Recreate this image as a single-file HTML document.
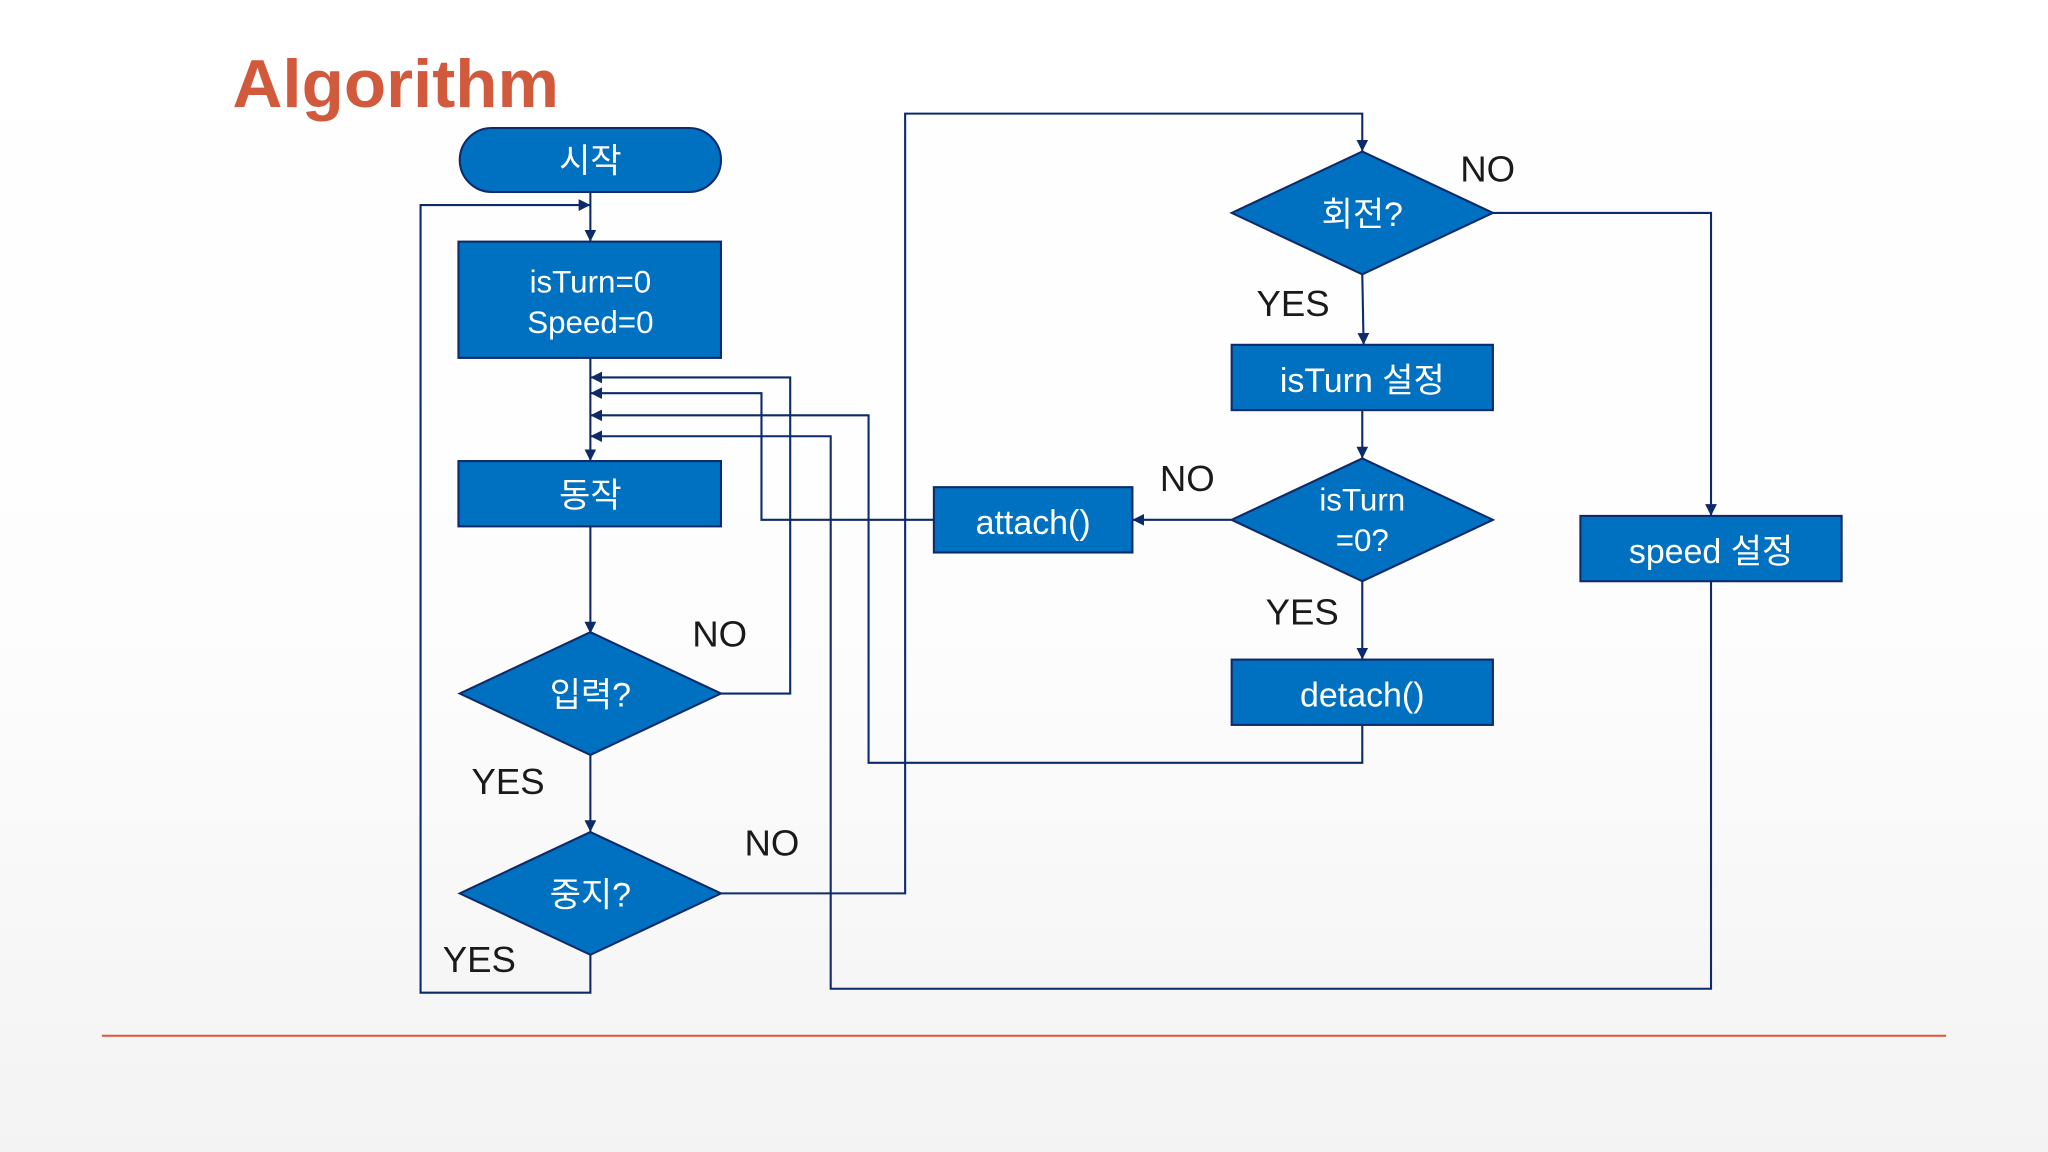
<!DOCTYPE html>
<html><head><meta charset="utf-8"><style>
html,body{margin:0;padding:0;width:2048px;height:1152px;overflow:hidden;background:#fff}
svg{display:block}
text{font-family:"Liberation Sans","Noto Sans CJK KR",sans-serif}
</style></head><body>
<svg width="2048" height="1152" viewBox="0 0 1568 882" preserveAspectRatio="none" xmlns="http://www.w3.org/2000/svg">
<defs>
<linearGradient id="bg" x1="0" y1="0" x2="0" y2="1">
<stop offset="0" stop-color="#ffffff"/><stop offset="0.55" stop-color="#fdfdfd"/><stop offset="1" stop-color="#f3f3f4"/>
</linearGradient>
<marker id="a" viewBox="0 0 10 10" refX="10" refY="5" markerWidth="9" markerHeight="9" markerUnits="userSpaceOnUse" orient="auto">
<path d="M0,0 L10,5 L0,10 z" fill="#0d2a6b"/></marker>
</defs>
<rect width="1568" height="882" fill="url(#bg)"/>
<text x="178" y="82" font-size="52" font-weight="bold" fill="#d25a3c" textLength="250" lengthAdjust="spacingAndGlyphs">Algorithm</text>
<line x1="78" y1="793" x2="1490" y2="793" stroke="#e0533a" stroke-width="1.5"/>
<g fill="none" stroke="#0d2a6b" stroke-width="1.6">
<path d="M452,147 V185" marker-end="url(#a)"/>
<path d="M452,731 V760 H322 V157 H452" marker-end="url(#a)"/>
<path d="M452,274 V353" marker-end="url(#a)"/>
<path d="M452,403 V485" marker-end="url(#a)"/>
<path d="M552,531 H605 V289 H452" marker-end="url(#a)"/>
<path d="M452,578 V637" marker-end="url(#a)"/>
<path d="M552,684 H693 V87 H1043 V116" marker-end="url(#a)"/>
<path d="M1143,163 H1310 V395" marker-end="url(#a)"/>
<path d="M1043,210 L1044,264" marker-end="url(#a)"/>
<path d="M1043,314 V351" marker-end="url(#a)"/>
<path d="M943,398 H867" marker-end="url(#a)"/>
<path d="M715,398 H583 V301 H452" marker-end="url(#a)"/>
<path d="M1043,445 V505" marker-end="url(#a)"/>
<path d="M1043,555 V584 H665 V318 H452" marker-end="url(#a)"/>
<path d="M1310,445 V757 H636 V334 H452" marker-end="url(#a)"/>
</g>
<g fill="#0070c0" stroke="#0d2a6b" stroke-width="1.6">
<rect x="352" y="98" width="200" height="49" rx="24.5"/>
<rect x="351" y="185" width="201" height="89"/>
<rect x="351" y="353" width="201" height="50"/>
<polygon points="352,531 452,484 552,531 452,578"/>
<polygon points="352,684 452,637 552,684 452,731"/>
<polygon points="943,163 1043,116 1143,163 1043,210"/>
<rect x="943" y="264" width="200" height="50"/>
<polygon points="943,398 1043,351 1143,398 1043,445"/>
<rect x="715" y="373" width="152" height="50"/>
<rect x="943" y="505" width="200" height="50"/>
<rect x="1210" y="395" width="200" height="50"/>
</g>
<g fill="#fff" font-size="26" text-anchor="middle">
<text x="452" y="132">시작</text>
<text x="452" y="224" font-size="24">isTurn=0</text>
<text x="452" y="255" font-size="24">Speed=0</text>
<text x="452" y="388">동작</text>
<text x="452" y="541">입력?</text>
<text x="452" y="694">중지?</text>
<text x="1043" y="173">회전?</text>
<text x="1043" y="300">isTurn 설정</text>
<text x="1043" y="391" font-size="24">isTurn</text>
<text x="1043" y="422" font-size="24">=0?</text>
<text x="791" y="409">attach()</text>
<text x="1043" y="541">detach()</text>
<text x="1310" y="431">speed 설정</text>
</g>
<g fill="#1a1a1a" font-size="28" text-anchor="middle">
<text x="1139" y="139">NO</text>
<text x="990" y="242">YES</text>
<text x="909" y="376">NO</text>
<text x="997" y="478">YES</text>
<text x="551" y="495">NO</text>
<text x="389" y="608">YES</text>
<text x="591" y="655">NO</text>
<text x="367" y="744">YES</text>
</g>
</svg>
</body></html>
